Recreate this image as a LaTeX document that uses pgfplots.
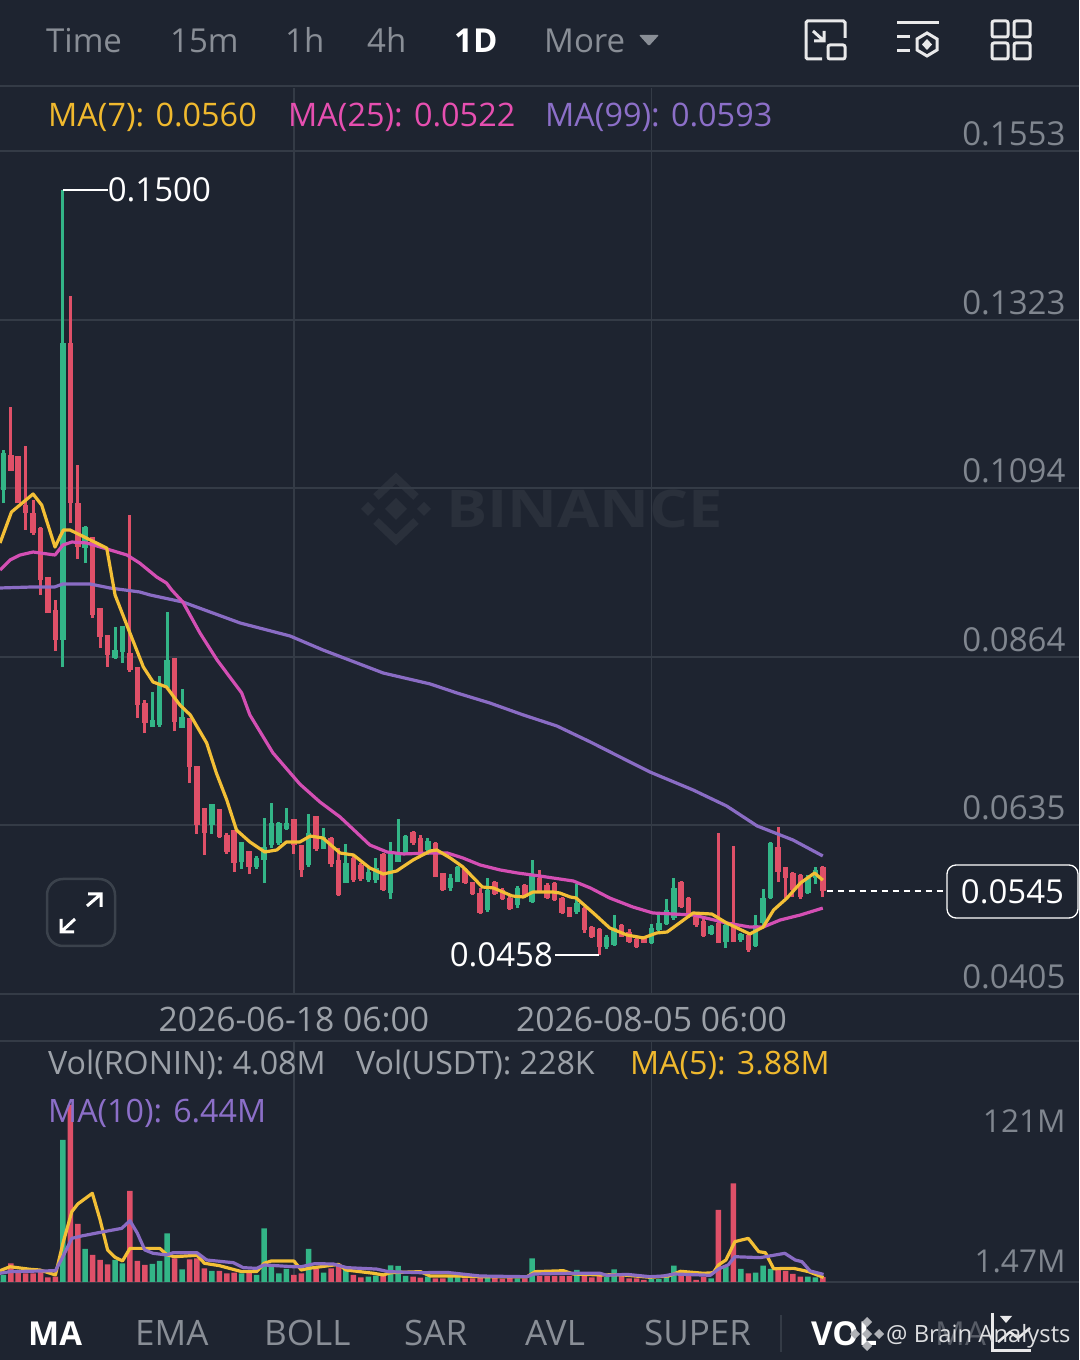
\documentclass[border=0pt]{standalone}
\usepackage{pgfplots}
\usepackage{pgfplotstable}
\usepackage{fontspec}
\setmainfont{Open Sans}
\pgfplotsset{compat=1.18}
\definecolor{bg}{HTML}{1E2430}
\definecolor{gridc}{HTML}{343B46}
\definecolor{cred}{HTML}{DF5068}
\definecolor{cgreen}{HTML}{33B587}
\definecolor{cyel}{HTML}{F3BF36}
\definecolor{cpink}{HTML}{D44FB4}
\definecolor{cpur}{HTML}{8A6CC4}
\definecolor{lblgray}{HTML}{80868F}
\definecolor{txtgray}{HTML}{9CA1A8}
\definecolor{wm}{HTML}{2A303B}
\definecolor{lgyel}{HTML}{F0B92E}
\definecolor{lgpink}{HTML}{E64FB0}
\definecolor{lgpur}{HTML}{8C6FC8}
% columns: index, high, low, body top, body bottom, volume (M)
\pgfplotstableread{
i hi lo top bot vol
1 0.12044 0.11172 0.11390 0.11172 15.9
2 0.11376 0.10736 0.11376 0.10736 8.5
3 0.11512 0.10369 0.10709 0.10600 7.4
4 0.10777 0.10301 0.10600 0.10328 7.4
5 0.10410 0.09484 0.10396 0.09688 8.5
6 0.09728 0.09238 0.09728 0.09238 4.0
7 0.09415 0.08721 0.09279 0.08871 4.5
9 0.13555 0.10464 0.12915 0.10736 150.5
10 0.11254 0.09974 0.10736 0.10137 49.3
12 0.10274 0.09170 0.10274 0.09211 23.0
13 0.09306 0.08762 0.09306 0.08912 18.7
14 0.08939 0.08503 0.08939 0.08667 15.0
17 0.10573 0.08435 0.08694 0.08462 77.4
18 0.08503 0.07808 0.08503 0.07986 17.9
19 0.08054 0.07604 0.08013 0.07740 14.5
23 0.08625 0.07631 0.08625 0.07754 20.1
25 0.07808 0.06923 0.07808 0.07141 19.3
26 0.07155 0.06229 0.07155 0.06352 20.1
27 0.06583 0.05943 0.06583 0.06242 11.6
29 0.06570 0.06174 0.06570 0.06188 9.4
30 0.06242 0.05957 0.06215 0.05984 7.4
31 0.06283 0.05712 0.06283 0.05834 7.9
33 0.05997 0.05684 0.05997 0.05780 7.9
39 0.06433 0.05957 0.06433 0.06079 6.0
40 0.06079 0.05643 0.06079 0.05739 7.4
42 0.06474 0.05997 0.06474 0.06025 11.6
44 0.06188 0.05780 0.06174 0.05820 11.6
45 0.06038 0.05385 0.05875 0.05398 15.3
47 0.05943 0.05575 0.05902 0.05602 6.0
48 0.05834 0.05589 0.05807 0.05616 4.0
51 0.05970 0.05453 0.05957 0.05466 5.4
55 0.06269 0.06079 0.06256 0.06106 4.5
56 0.06215 0.05984 0.06174 0.05984 3.7
58 0.06120 0.05643 0.06106 0.05643 3.1
59 0.05698 0.05453 0.05698 0.05466 3.1
62 0.05766 0.05548 0.05752 0.05561 3.1
63 0.05575 0.05398 0.05575 0.05412 3.1
64 0.05494 0.05139 0.05425 0.05153 3.7
66 0.05589 0.05398 0.05575 0.05412 3.7
67 0.05494 0.05330 0.05466 0.05344 2.8
68 0.05385 0.05194 0.05357 0.05208 3.7
70 0.05548 0.05357 0.05534 0.05371 3.1
72 0.05739 0.05425 0.05630 0.05439 5.1
73 0.05561 0.05344 0.05534 0.05357 5.1
74 0.05575 0.05316 0.05561 0.05330 5.1
75 0.05371 0.05139 0.05357 0.05153 5.1
76 0.05235 0.05099 0.05235 0.05099 5.1
78 0.05235 0.04881 0.05221 0.04922 5.7
79 0.04976 0.04813 0.04962 0.04826 4.0
80 0.04949 0.04580 0.04935 0.04690 5.1
83 0.05003 0.04826 0.04990 0.04826 5.1
84 0.04935 0.04745 0.04894 0.04758 3.1
85 0.04813 0.04676 0.04799 0.04690 3.1
86 0.04840 0.04745 0.04813 0.04745 1.7
91 0.05589 0.05221 0.05575 0.05235 5.1
92 0.05371 0.05085 0.05357 0.05099 5.1
93 0.05167 0.04962 0.05099 0.04990 1.7
94 0.05071 0.04826 0.05044 0.04840 4.5
96 0.06242 0.04745 0.05017 0.04745 61.2
98 0.06065 0.04758 0.04962 0.04758 83.9
100 0.04881 0.04622 0.04854 0.04649 7.4
104 0.06324 0.05575 0.06052 0.05712 10.2
105 0.05780 0.05357 0.05780 0.05630 9.4
106 0.05711 0.05371 0.05698 0.05466 6.8
107 0.05684 0.05344 0.05671 0.05371 4.5
110 0.05793 0.05371 0.05780 0.05450 4.08
}\redtab
\pgfplotstableread{
i hi lo top bot vol
0 0.11458 0.10736 0.11417 0.10913 6.0
8 0.15000 0.08503 0.12915 0.08871 120.7
11 0.10424 0.09919 0.10410 0.10123 28.1
15 0.09048 0.08612 0.08735 0.08625 18.7
16 0.09061 0.08557 0.09061 0.08708 15.9
20 0.08163 0.07686 0.07781 0.07686 15.3
21 0.08380 0.07686 0.08258 0.07713 17.9
22 0.09252 0.08217 0.08598 0.08217 41.4
24 0.08204 0.07672 0.07822 0.07672 10.8
28 0.06637 0.06229 0.06637 0.06352 9.4
32 0.06120 0.05753 0.06120 0.05848 7.4
34 0.05929 0.05753 0.05902 0.05780 6.0
35 0.06447 0.05561 0.06052 0.05875 45.6
36 0.06651 0.06038 0.06379 0.06079 13.0
37 0.06393 0.06079 0.06379 0.06106 7.4
38 0.06583 0.06283 0.06379 0.06297 11.1
41 0.06501 0.05780 0.06242 0.05807 28.1
43 0.06310 0.06025 0.06188 0.06025 7.9
46 0.06093 0.05561 0.05834 0.05561 10.8
49 0.05766 0.05575 0.05711 0.05602 4.5
50 0.05902 0.05561 0.05766 0.05602 5.4
52 0.06120 0.05344 0.05984 0.05425 14.2
53 0.06433 0.05848 0.05984 0.05848 13.6
54 0.06215 0.05970 0.06202 0.05970 5.1
57 0.06174 0.05943 0.06134 0.06011 4.5
60 0.05684 0.05453 0.05630 0.05494 4.5
61 0.05793 0.05575 0.05780 0.05575 4.5
65 0.05630 0.05167 0.05466 0.05194 4.5
69 0.05521 0.05221 0.05494 0.05262 3.1
71 0.05875 0.05289 0.05657 0.05303 20.1
77 0.05548 0.05139 0.05289 0.05167 10.2
81 0.04854 0.04663 0.04826 0.04690 4.5
82 0.05126 0.04704 0.04949 0.04717 10.8
87 0.05003 0.04731 0.04949 0.04745 2.6
88 0.05167 0.04908 0.05017 0.04922 2.6
89 0.05344 0.04990 0.05194 0.05003 4.5
90 0.05630 0.05058 0.05494 0.05085 13.9
95 0.04990 0.04854 0.04976 0.04867 3.1
97 0.05003 0.04676 0.04990 0.04758 13.0
99 0.04881 0.04758 0.04867 0.04785 11.1
101 0.05126 0.04690 0.04990 0.04704 7.9
102 0.05480 0.04990 0.05357 0.05017 13.9
103 0.06120 0.05344 0.06106 0.05357 11.1
108 0.05671 0.05412 0.05630 0.05425 4.5
109 0.05780 0.05548 0.05739 0.05630 4.0
}\greentab
\newcommand\T[5]{\node[anchor=base west,inner sep=0pt,text=#4,font=\fontsize{#3}{#3}\selectfont] at (#1,#2) {#5};}
\newcommand\Tb[5]{\node[anchor=base west,inner sep=0pt,text=#4,font=\fontsize{#3}{#3}\selectfont\bfseries] at (#1,#2) {#5};}
\begin{document}
\begin{tikzpicture}
\path[use as bounding box,fill=bg] (0pt,0pt) rectangle (1079pt,1360pt);
\begin{scope}[x=1pt,y=-1pt,shift={(0pt,1360pt)}]
% separators
\draw[gridc,line width=1.5pt] (0,86)--(1079,86);
\draw[gridc,line width=1.5pt] (0,1041)--(1079,1041);
\draw[gridc,line width=2pt] (0,1282)--(1079,1282);
% watermark
\node[anchor=base west,inner sep=0pt,text=wm,font=\fontsize{52}{52}\selectfont\bfseries] at (446,528) {\scalebox{1.18}[1]{BINANCE}};
\fill[wm] (396,498)--(407,509)--(396,520)--(385,509)--cycle;
\fill[wm] (368,502)--(375,509)--(368,516)--(361,509)--cycle;
\fill[wm] (424,502)--(431,509)--(424,516)--(417,509)--cycle;
\draw[wm,line width=8pt] (376,497)--(396,478)--(416,497);
\draw[wm,line width=8pt] (376,521)--(396,540)--(416,521);
\end{scope}
%%%% price panel
\begin{axis}[at={(0pt,366pt)},anchor=south west,scale only axis,width=1079pt,height=906pt,
  xmin=-0.443,xmax=144.39,ymin=0.0405,ymax=0.16388,
  axis line style={draw=none},major tick length=0pt,
  xtick={39,87},xticklabels={2026-06-18 06:00,2026-08-05 06:00},
  ytick={0.0405,0.0635,0.0864,0.1094,0.1323,0.1553},
  yticklabels={0.0405,0.0635,0.0864,0.1094,0.1323,0.1553},
  yticklabel pos=right,
  xmajorgrids,ymajorgrids,grid style={gridc,line width=1.5pt},
  yticklabel style={anchor=east,xshift=-10pt,yshift=17.5pt,text=lblgray,font=\fontsize{33}{33}\selectfont},
  xticklabel style={text=txtgray,font=\fontsize{33.7}{33.7}\selectfont,yshift=-10pt},
]
\addplot[draw=none,mark=none,error bars/.cd,y dir=plus,y explicit,error mark=none,error bar style={line width=3pt,draw=cred}]
  table[x=i,y=lo,y error plus expr=\thisrow{hi}-\thisrow{lo}] {\redtab};
\addplot[draw=none,mark=none,error bars/.cd,y dir=plus,y explicit,error mark=none,error bar style={line width=3pt,draw=cgreen}]
  table[x=i,y=lo,y error plus expr=\thisrow{hi}-\thisrow{lo}] {\greentab};
\addplot[draw=none,mark=none,error bars/.cd,y dir=plus,y explicit,error mark=none,error bar style={line width=5.5pt,draw=cred}]
  table[x=i,y=bot,y error plus expr=\thisrow{top}-\thisrow{bot}] {\redtab};
\addplot[draw=none,mark=none,error bars/.cd,y dir=plus,y explicit,error mark=none,error bar style={line width=5.5pt,draw=cgreen}]
  table[x=i,y=bot,y error plus expr=\thisrow{top}-\thisrow{bot}] {\greentab};
% MA(99)
\addplot[cpur,line width=3.2pt,line join=round] coordinates {
(-0.44,0.09579)(4,0.09593)(6.9,0.09593)(8,0.09634)(11.6,0.09634)(14.3,0.09579)(18.3,0.09525)(19.7,0.09484)
(24.1,0.09388)(31.8,0.09102)(35.4,0.09007)(38.5,0.08925)(42.9,0.08735)(47.5,0.08557)(51,0.08421)(57.3,0.08272)
(60.9,0.08149)(65.3,0.08013)(69.8,0.07850)(74.3,0.07700)(78.8,0.07482)(82.8,0.07277)(86.8,0.07073)(92.6,0.06828)
(97.1,0.06610)(101.2,0.06338)(106,0.06147)(110,0.05930)};
% MA(25)
\addplot[cpink,line width=3.2pt,line join=round] coordinates {
(-0.44,0.09824)(0.9,0.09960)(2.24,0.10028)(4,0.10069)(6.94,0.10028)(8,0.10164)(9.2,0.10205)(11.2,0.10192)
(13.9,0.10110)(16.6,0.10028)(18.3,0.09919)(20.6,0.09728)(21.9,0.09647)(22.6,0.09552)(24.1,0.09388)(26.4,0.08966)
(28.7,0.08598)(32,0.08150)(33.1,0.07850)(36.2,0.07332)(39.8,0.06909)(42.5,0.06665)(45.2,0.06461)(47.5,0.06242)
(49.2,0.06079)(51.5,0.05984)(53.7,0.05957)(57.3,0.05970)(59.6,0.05970)(61.7,0.05902)(64,0.05807)(66.7,0.05739)
(69,0.05698)(72,0.05657)(74.7,0.05616)(76.5,0.05589)(78.8,0.05494)(81.4,0.05357)(84.5,0.05235)(87.2,0.05153)
(92.6,0.05126)(97.1,0.05017)(100.2,0.04962)(102,0.04962)(104.3,0.05058)(107,0.05126)(110,0.05220)};
% MA(7)
\addplot[cyel,line width=3.2pt,line join=round] coordinates {
(-0.44,0.10192)(1.1,0.10614)(4,0.10859)(5.15,0.10709)(6.94,0.10137)(8.06,0.10369)(8.95,0.10369)(13.88,0.10123)
(15,0.09484)(17,0.08966)(18.8,0.08503)(20.1,0.08299)(21.9,0.08231)(23.7,0.07986)(25.1,0.07850)(27.3,0.07468)
(28.6,0.07059)(30,0.06692)(31.3,0.06283)(33.1,0.06120)(35.1,0.05984)(36.7,0.06011)(38,0.06120)(39.8,0.06120)
(41.2,0.06201)(42.9,0.06174)(45.2,0.05970)(47,0.05943)(49.2,0.05766)(51,0.05684)(52.8,0.05725)(55,0.05875)
(57.3,0.05997)(58.2,0.06011)(60,0.05902)(61.7,0.05780)(64.3,0.05507)(65.8,0.05494)(68.3,0.05385)(69.8,0.05371)
(71.1,0.05439)(73.8,0.05439)(74.7,0.05425)(76.1,0.05371)(76.9,0.05357)(79.2,0.05153)(81.4,0.04949)(83.7,0.04854)
(85.9,0.04813)(87.7,0.04881)(89.1,0.04894)(92.6,0.05153)(95.1,0.05139)(97.1,0.05017)(100.2,0.04867)(102,0.04962)
(103.4,0.05194)(105.2,0.05357)(107,0.05561)(108.9,0.05698)(110,0.05600)};
% last price, extremes
\addplot[white,line width=1.5pt,dash pattern=on 6pt off 5pt] coordinates {(110.5,0.0545)(126.4,0.0545)};
\addplot[white,line width=1.3pt] coordinates {(8,0.1500)(14,0.1500)};
\addplot[white,line width=1.3pt] coordinates {(80,0.0458)(74,0.0458)};
\node[anchor=west,inner sep=0pt,text=white,font=\fontsize{33}{33}\selectfont] at (axis cs:14,0.1500) {0.1500};
\node[anchor=east,inner sep=0pt,text=white,font=\fontsize{33}{33}\selectfont] at (axis cs:73.8,0.0458) {0.0458};
\end{axis}
%%%% volume panel
\begin{axis}[at={(0pt,78pt)},anchor=south west,scale only axis,width=1079pt,height=241pt,
  xmin=-0.443,xmax=144.39,ymin=0,ymax=204.85,
  axis line style={draw=none},major tick length=0pt,
  xtick={39,87},xticklabels={},xmajorgrids,grid style={gridc,line width=1.5pt},
  ytick={1.47,121},yticklabels={1.47M,121M},yticklabel pos=right,
  yticklabel style={anchor=east,xshift=-10pt,yshift=19pt,text=lblgray,font=\fontsize{31.5}{31.5}\selectfont},
]
\addplot[ybar,bar width=5.5pt,bar shift=0pt,fill=cred,draw=none] table[x=i,y=vol] {\redtab};
\addplot[ybar,bar width=5.5pt,bar shift=0pt,fill=cgreen,draw=none] table[x=i,y=vol] {\greentab};
% MA(5)
\addplot[cyel,line width=3.2pt,line join=round] coordinates {
(-0.45,9.6)(0.9,13)(3.6,10.8)(4.9,10.2)(7,6)(8,32.9)(9.2,59.8)(10,66.3)(11.95,75.4)(13,52.7)(14,27.2)(15,21)(16,17.9)
(17,28.6)(18,28.6)(21,28.6)(22,23)(23,21.5)(26,22.7)(27,15.9)(29,13.9)(32,8.8)(34,8.8)(35,15.9)(36,17.9)(39,17.9)
(40,10.2)(41,11.6)(45,15)(46,10.2)(49.7,7.4)(51,6)(52,7.9)(56,8.8)(57.3,5.1)(60.9,5.1)(64,4.5)(70.3,4.5)(71.4,8.8)
(75.2,9.6)(76.5,6.8)(80.1,6)(82.8,6.2)(86.8,4)(89.3,5.1)(90.9,9.1)(94,7.4)(95.3,7.9)(96,14.5)(97,18.7)(98.2,34.3)
(100,37.1)(101.4,25.8)(102.3,24.9)(103.4,11.3)(106.1,11.6)(108.1,8.8)(110.1,3.88)};
% MA(10)
\addplot[cpur,line width=3.2pt,line join=round] coordinates {
(-0.45,7.4)(0.9,8.8)(7,9.6)(8,21.5)(9.2,37.1)(10.5,39.1)(13,42.2)(15.9,45.6)(17,52.1)(18,41.4)(19,27.2)(20.1,24.4)
(21.9,23)(22.8,24.9)(26,24.9)(27.3,18.7)(30.9,16.4)(32.2,12.2)(34,11.6)(35,14.5)(38.9,13)(40,13)(41.8,15.6)(44.3,15.3)
(46.1,12.2)(50.1,11)(51.7,8.8)(56,7.9)(59.5,8.2)(64,5.1)(70.3,4.5)(71.2,6.8)(76,7.4)(80.1,7.4)(81,5.7)(83.7,6.5)
(86.8,4.5)(88.6,5.1)(90,6.8)(94.9,5.7)(96,11.1)(97.3,14.5)(98.2,21.5)(101.6,20.7)(104.9,24.4)(106.3,18.7)(107.2,17.3)
(108.3,9.4)(110.1,6.44)};
\end{axis}
%%%% text and icons
\begin{scope}[x=1pt,y=-1pt,shift={(0pt,1360pt)}]
\T{46}{52.5}{33}{txtgray!85!bg}{Time}
\T{170}{52.5}{33}{txtgray!85!bg}{15m}
\T{285}{52.5}{33}{txtgray!85!bg}{1h}
\T{367}{52.5}{33}{txtgray!85!bg}{4h}
\Tb{454}{52.5}{33}{white}{1D}
\T{544}{52.5}{33}{txtgray!85!bg}{More}
\fill[txtgray!85!bg,rounded corners=1pt] (639,35)--(659,35)--(649,46)--cycle;
\T{48}{127}{32.4}{lgyel}{MA(7): 0.0560}
\T{288}{127}{32.4}{lgpink}{MA(25): 0.0522}
\T{545}{127}{32.4}{lgpur}{MA(99): 0.0593}
\T{48}{1075}{32.2}{txtgray}{Vol(RONIN): 4.08M}
\T{356}{1075}{32.2}{txtgray}{Vol(USDT): 228K}
\T{630}{1075}{32.2}{lgyel}{MA(5): 3.88M}
\T{48}{1123}{32.2}{lgpur}{MA(10): 6.44M}
% last price box
\node[draw=white,line width=1.3pt,rounded corners=9pt,fill=bg,minimum width=131pt,minimum height=53pt,inner sep=0pt,text=white,font=\fontsize{33}{33}\selectfont] at (1012.5,891.5) {0.0545};
% expand button
\draw[gridc!130!bg,line width=2.5pt,rounded corners=16pt] (47,879) rectangle (115,946);
\draw[white,line width=3pt] (87,906)--(101,894) (88,894)--(101,894)--(101,907);
\draw[white,line width=3pt] (75,919)--(61,932) (61,919)--(61,932)--(74,932);
% top right icons
\draw[white!90!bg,line width=3pt,rounded corners=1.5pt] (845,38)--(845,21)--(806,21)--(806,59)--(822,59);
\draw[white!90!bg,line width=3pt,rounded corners=2pt] (828,45) rectangle (845,59);
\draw[white!90!bg,line width=3pt] (813,31)--(824,41) (814,41)--(824,41)--(824,31);
\draw[white!90!bg,line width=3pt] (897,23)--(939,23) (897,37)--(910,37) (897,51)--(910,51);
\draw[white!90!bg,line width=3pt] (927,33)--(937,39)--(937,50)--(927,56)--(917,50)--(917,39)--cycle;
\fill[white!90!bg] (927,39)--(932,44.5)--(927,50)--(922,44.5)--cycle;
\foreach \a/\b in {992/21,1014/21,992/43,1014/43}
  \draw[white!90!bg,line width=3pt,rounded corners=2pt] (\a,\b) rectangle ++(16,16);
% bottom bar
\Tb{28}{1346}{33}{white}{MA}
\T{135}{1346}{35}{txtgray!85!bg}{EMA}
\T{264}{1346}{35}{txtgray!85!bg}{BOLL}
\T{404}{1346}{35}{txtgray!85!bg}{SAR}
\T{525}{1346}{35}{txtgray!85!bg}{AVL}
\T{644}{1346}{35}{txtgray!85!bg}{SUPER}
\draw[gridc,line width=2pt] (781,1315)--(781,1352);
\Tb{811}{1346}{33}{white}{VOL}
\T{935}{1346}{33}{txtgray!45!bg}{MA}
\draw[white!90!bg,line width=3pt] (992,1313)--(992,1351)--(1031,1351);
\fill[white!90!bg] (1000,1316)--(1012,1316)--(1006,1323)--cycle;
\draw[white!90!bg,line width=2.5pt] (998,1342)--(1010,1332)--(1018,1338)--(1030,1328);
\foreach \a/\b in {867/1322,867/1346,855/1334,879/1334,867/1334}
  \fill[white!65!bg] (\a,\b-5)--(\a+5,\b)--(\a,\b+5)--(\a-5,\b)--cycle;
\T{886}{1343}{23.8}{white!85!bg}{@ Brain Analysts}
\end{scope}
\end{tikzpicture}
\end{document}
